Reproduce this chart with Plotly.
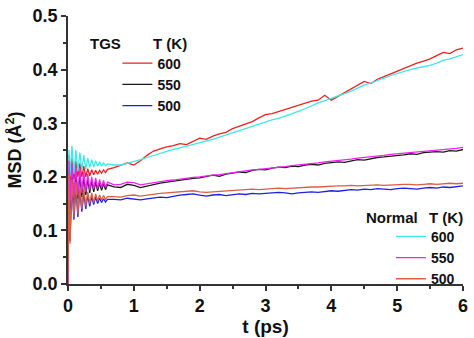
import plotly.graph_objects as go

# Sampling times (ps): dense at the start to resolve the ringing, then 0.1 ps steps
t_ps = [0.0, 0.015, 0.03, 0.06, 0.09, 0.12, 0.15, 0.18, 0.21, 0.24, 0.27, 0.30,
        0.33, 0.36, 0.39, 0.42, 0.45, 0.48, 0.51, 0.54, 0.57, 0.60,
        0.7, 0.8, 0.9, 1.0, 1.1, 1.2, 1.3, 1.4, 1.5, 1.6, 1.7, 1.8, 1.9, 2.0,
        2.1, 2.2, 2.3, 2.4, 2.5, 2.6, 2.7, 2.8, 2.9, 3.0, 3.1, 3.2, 3.3, 3.4,
        3.5, 3.6, 3.7, 3.8, 3.9, 4.0, 4.1, 4.2, 4.3, 4.4, 4.5, 4.6, 4.7, 4.8,
        4.9, 5.0, 5.1, 5.2, 5.3, 5.4, 5.5, 5.6, 5.7, 5.8, 5.9, 6.0]

# MSD (Å^2) — TGS model
tgs_600 = [0.0, 0.24, 0.19, 0.235, 0.195, 0.23, 0.2, 0.225, 0.2, 0.22, 0.2, 0.215,
           0.202, 0.213, 0.204, 0.212, 0.205, 0.212, 0.207, 0.213, 0.208, 0.214,
           0.217, 0.222, 0.226, 0.222, 0.23, 0.24, 0.248, 0.252, 0.256, 0.258,
           0.262, 0.26, 0.266, 0.272, 0.27, 0.276, 0.28, 0.283, 0.29, 0.294,
           0.298, 0.303, 0.31, 0.316, 0.318, 0.322, 0.325, 0.33, 0.333, 0.338,
           0.341, 0.343, 0.352, 0.343, 0.35, 0.357, 0.365, 0.372, 0.378, 0.374,
           0.382, 0.387, 0.392, 0.398, 0.403, 0.407, 0.412, 0.416, 0.42, 0.426,
           0.432, 0.43, 0.437, 0.44]
tgs_550 = [0.0, 0.21, 0.14, 0.215, 0.15, 0.21, 0.158, 0.205, 0.162, 0.2, 0.166, 0.196,
           0.17, 0.193, 0.172, 0.19, 0.174, 0.188, 0.175, 0.187, 0.176, 0.185,
           0.181, 0.18, 0.186, 0.184, 0.18, 0.183, 0.186, 0.188, 0.19, 0.192,
           0.193, 0.195, 0.197, 0.198, 0.2, 0.203, 0.201, 0.205, 0.207, 0.209,
           0.208, 0.212, 0.214, 0.213, 0.216, 0.218, 0.217, 0.22, 0.219, 0.222,
           0.223, 0.222, 0.225, 0.226, 0.228, 0.227, 0.23, 0.232, 0.231, 0.234,
           0.236, 0.237, 0.238, 0.24, 0.241, 0.243, 0.242, 0.245, 0.246, 0.247,
           0.246, 0.249, 0.248, 0.251]
tgs_500 = [0.0, 0.19, 0.08, 0.185, 0.12, 0.18, 0.125, 0.175, 0.135, 0.17, 0.14, 0.166,
           0.145, 0.163, 0.148, 0.162, 0.15, 0.16, 0.152, 0.159, 0.153, 0.158,
           0.158, 0.157, 0.16, 0.159, 0.157, 0.159, 0.16, 0.162, 0.161, 0.164,
           0.166, 0.167, 0.168, 0.166, 0.164, 0.166, 0.167, 0.165, 0.166, 0.168,
           0.167, 0.169, 0.168, 0.169, 0.17, 0.171, 0.17, 0.168, 0.17, 0.171,
           0.172, 0.171, 0.173, 0.174, 0.173, 0.174, 0.176, 0.175, 0.177, 0.176,
           0.178, 0.177, 0.176, 0.178, 0.179, 0.178, 0.177, 0.179, 0.18, 0.179,
           0.181, 0.18, 0.182, 0.183]

# MSD (Å^2) — Normal model
normal_600 = [0.0, 0.25, 0.2, 0.258, 0.205, 0.25, 0.21, 0.245, 0.212, 0.24, 0.215, 0.235,
              0.217, 0.232, 0.218, 0.23, 0.22, 0.228, 0.22, 0.226, 0.221, 0.224,
              0.222, 0.222, 0.225, 0.228, 0.232, 0.236, 0.24, 0.244, 0.248, 0.251,
              0.254, 0.257, 0.26, 0.263, 0.267, 0.27, 0.274, 0.278, 0.282, 0.287,
              0.291, 0.295, 0.299, 0.303, 0.306, 0.309, 0.313, 0.318, 0.322, 0.327,
              0.333, 0.338, 0.342, 0.346, 0.35, 0.355, 0.36, 0.366, 0.371, 0.375,
              0.379, 0.384, 0.389, 0.393, 0.397, 0.4, 0.403, 0.405, 0.408, 0.412,
              0.417, 0.42, 0.424, 0.428]
normal_550 = [0.0, 0.23, 0.15, 0.225, 0.16, 0.22, 0.165, 0.215, 0.17, 0.21, 0.172, 0.205,
              0.175, 0.2, 0.177, 0.198, 0.178, 0.195, 0.18, 0.193, 0.18, 0.19,
              0.185, 0.186, 0.19, 0.189, 0.185, 0.187, 0.19, 0.191, 0.193, 0.194,
              0.196, 0.197, 0.199, 0.2, 0.202, 0.203, 0.204, 0.206, 0.208, 0.21,
              0.211, 0.213, 0.214, 0.215, 0.217, 0.218, 0.219, 0.221, 0.222, 0.224,
              0.225, 0.226, 0.228, 0.229, 0.231, 0.232, 0.233, 0.235, 0.236, 0.238,
              0.239, 0.24, 0.242, 0.243, 0.244, 0.246, 0.247, 0.248, 0.249, 0.25,
              0.251, 0.252, 0.253, 0.255]
normal_500 = [0.0, 0.205, 0.075, 0.195, 0.125, 0.19, 0.13, 0.18, 0.14, 0.178, 0.145, 0.172,
              0.15, 0.17, 0.152, 0.168, 0.155, 0.166, 0.157, 0.165, 0.158, 0.163,
              0.163, 0.162, 0.165, 0.166, 0.164, 0.166, 0.168, 0.169, 0.17, 0.171,
              0.172, 0.173, 0.174, 0.172, 0.171, 0.172, 0.173, 0.174, 0.174, 0.175,
              0.176, 0.177, 0.176, 0.177, 0.178, 0.179, 0.178, 0.179, 0.18, 0.18,
              0.181, 0.181, 0.182, 0.182, 0.183, 0.183, 0.184, 0.183, 0.184, 0.185,
              0.185, 0.184, 0.185, 0.185, 0.186, 0.186, 0.185, 0.186, 0.187, 0.186,
              0.187, 0.188, 0.187, 0.188]

temps = ["600", "550", "500"]
tgs_series = [tgs_600, tgs_550, tgs_500]
normal_series = [normal_600, normal_550, normal_500]
tgs_colors = ["#e8221f", "#1a1a1a", "#2020e0"]
normal_colors = ["#3de8e8", "#ee22ee", "#d95f45"]

FONT = "Liberation Sans, Arial, sans-serif"
AXIS_COLOR = "#333333"
TEXT_COLOR = "#111111"

fig = go.Figure()
for label, ys, col in zip(temps, tgs_series, tgs_colors):
    fig.add_trace(go.Scatter(x=t_ps, y=ys, mode="lines", name=label,
                             line=dict(color=col, width=1.3), legend="legend"))
for label, ys, col in zip(temps, normal_series, normal_colors):
    fig.add_trace(go.Scatter(x=t_ps, y=ys, mode="lines", name=label,
                             line=dict(color=col, width=1.3), legend="legend2"))

legend_style = dict(
    bgcolor="rgba(0,0,0,0)", borderwidth=0, tracegroupgap=0,
    font=dict(family=FONT, size=14, color=TEXT_COLOR, weight="bold"),
    xanchor="left", yanchor="top", itemclick=False,
)

fig.update_layout(
    width=474, height=338,
    margin=dict(l=68, r=6, t=9, b=49),
    paper_bgcolor="white", plot_bgcolor="white",
    font=dict(family=FONT, color=TEXT_COLOR),
    showlegend=True,
    legend=dict(x=0.125, y=0.882, **legend_style),
    legend2=dict(x=0.8175, y=0.236, **legend_style),
    xaxis=dict(
        range=[0, 6], tickvals=[0, 1, 2, 3, 4, 5, 6],
        showgrid=False, zeroline=False,
        showline=True, linecolor=AXIS_COLOR, linewidth=1.5,
        ticks="outside", ticklen=5, tickwidth=1.5, tickcolor=AXIS_COLOR,
        minor=dict(tickvals=[0.5, 1.5, 2.5, 3.5, 4.5, 5.5], ticks="outside",
                   ticklen=3, tickwidth=1.5, tickcolor=AXIS_COLOR),
        tickfont=dict(family=FONT, size=18, color=TEXT_COLOR, weight="bold"),
        ticklabeloverflow="allow",
        title=dict(text="t (ps)", standoff=2,
                   font=dict(family=FONT, size=19, color=TEXT_COLOR, weight="bold")),
    ),
    yaxis=dict(
        range=[0, 0.5], tickvals=[0, 0.1, 0.2, 0.3, 0.4, 0.5],
        ticktext=["0.0", "0.1", "0.2", "0.3", "0.4", "0.5"],
        showgrid=False, zeroline=False,
        showline=True, linecolor=AXIS_COLOR, linewidth=1.5,
        ticks="outside", ticklen=5, tickwidth=1.5, tickcolor=AXIS_COLOR,
        minor=dict(tickvals=[0.05, 0.15, 0.25, 0.35, 0.45], ticks="outside",
                   ticklen=3, tickwidth=1.5, tickcolor=AXIS_COLOR),
        tickfont=dict(family=FONT, size=18, color=TEXT_COLOR, weight="bold"),
        ticklabeloverflow="allow",
        title=dict(text="MSD (Å<sup>2</sup>)", standoff=6,
                   font=dict(family=FONT, size=18, color=TEXT_COLOR, weight="bold")),
    ),
)

# Legend headers
header_font = dict(family=FONT, size=15, color=TEXT_COLOR, weight="bold")
for text, xp, yp in [("TGS", 0.05, 0.896), ("T (K)", 0.21, 0.896),
                     ("Normal", 0.75, 0.25), ("T (K)", 0.91, 0.25)]:
    fig.add_annotation(text=text, x=xp, y=yp, xref="paper", yref="paper",
                       xanchor="left", yanchor="middle", showarrow=False,
                       font=header_font)

fig.write_html("out.html")
